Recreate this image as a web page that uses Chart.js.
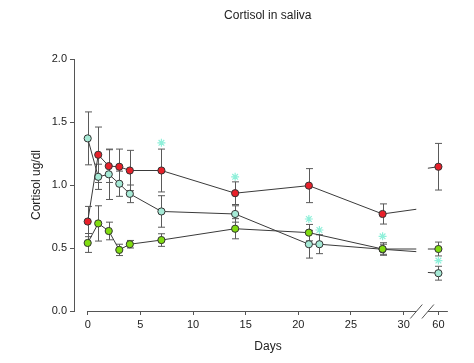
<!DOCTYPE html>
<html>
<head>
<meta charset="utf-8">
<script src="https://cdn.jsdelivr.net/npm/chart.js@4/dist/chart.umd.min.js"></script>
<style>
  body { margin: 0; background: #fff; }
  #wrap { width: 474px; height: 363px; }
</style>
</head>
<body>
<div id="wrap"><canvas id="chart"></canvas></div>
<script>
// values (mean and error bar half-length)
var redDays = [0, 1, 2, 3, 4, 7, 14, 21, 28, 60];
var redMean = [0.71, 1.24, 1.15, 1.145, 1.115, 1.115, 0.935, 0.995, 0.77, 1.145];
var redErr = [0.12, 0.22, 0.13, 0.14, 0.16, 0.17, 0.09, 0.135, 0.08, 0.185];

var cyanDays = [0, 1, 2, 3, 4, 7, 14, 21, 22, 28, 60];
var cyanMean = [1.37, 1.065, 1.085, 1.01, 0.93, 0.79, 0.77, 0.53, 0.53, 0.49, 0.30];
var cyanErr = [0.21, 0.1, 0.2, 0.1, 0.07, 0.125, 0.065, 0.11, 0.075, 0.04, 0.055];

var greenDays = [0, 1, 2, 3, 4, 7, 14, 21, 28, 60];
var greenMean = [0.54, 0.695, 0.635, 0.485, 0.53, 0.563, 0.653, 0.622, 0.492, 0.492];
var greenErr = [0.075, 0.14, 0.07, 0.045, 0.03, 0.05, 0.08, 0.065, 0.05, 0.055];

// significance asterisks
var starDays = [7, 14, 21, 22, 28, 60];
var starValues = [1.335, 1.065, 0.73, 0.643, 0.593, 0.40];

var xTickDays = [0, 5, 10, 15, 20, 25, 30, 60];

// broken x axis: days after CUT are shifted left so 60 sits just past 30
var CUT = 31.2;
var RESUME = 59;
var SHIFT = 60 - 33.3;
var AXIS_END = 34.2;

function axisDay(d) {
  return d > CUT ? d - SHIFT : d;
}
function realDay(v) {
  return v > CUT ? Math.round(v + SHIFT) : v;
}
function points(days, vals) {
  return days.map(function (d, i) {
    return { x: axisDay(d), y: vals[i] };
  });
}

var lineColor = "#3a3a3a";
var axisColor = "#555";

function series(label, days, mean, err, fill) {
  return {
    label: label,
    type: "line",
    data: points(days, mean),
    days: days,
    mean: mean,
    err: err,
    borderColor: lineColor,
    borderWidth: 1,
    pointRadius: 3.6,
    pointBorderWidth: 1,
    pointBorderColor: "#333",
    pointBackgroundColor: fill,
    fill: false,
    tension: 0,
    segment: {
      borderColor: function (ctx) {
        return ctx.p0.parsed.x <= CUT && ctx.p1.parsed.x > CUT ? "rgba(0,0,0,0)" : lineColor;
      },
    },
  };
}

// error bars and the line pieces either side of the axis break
var extrasPlugin = {
  id: "extras",
  beforeDatasetsDraw: function (chart) {
    var ctx = chart.ctx;
    var xs = chart.scales.x;
    var ys = chart.scales.y;
    ctx.save();
    chart.data.datasets.forEach(function (ds) {
      if (!ds.err) return;
      ctx.strokeStyle = "#5a5a5a";
      ctx.lineWidth = 1;
      ds.days.forEach(function (d, i) {
        var px = Math.round(xs.getPixelForValue(axisDay(d))) + 0.5;
        var top = ys.getPixelForValue(ds.mean[i] + ds.err[i]);
        var bot = ys.getPixelForValue(ds.mean[i] - ds.err[i]);
        ctx.beginPath();
        ctx.moveTo(px, top);
        ctx.lineTo(px, bot);
        ctx.moveTo(px - 3.5, top);
        ctx.lineTo(px + 3.5, top);
        ctx.moveTo(px - 3.5, bot);
        ctx.lineTo(px + 3.5, bot);
        ctx.stroke();
      });
      // connectors drawn in real days, cut at the break
      for (var i = 0; i < ds.days.length - 1; i++) {
        var d0 = ds.days[i], d1 = ds.days[i + 1];
        if (d0 <= CUT && d1 > CUT) {
          var m0 = ds.mean[i], m1 = ds.mean[i + 1];
          var yc = m0 + ((m1 - m0) * (CUT - d0)) / (d1 - d0);
          var yr = m0 + ((m1 - m0) * (RESUME - d0)) / (d1 - d0);
          ctx.strokeStyle = lineColor;
          ctx.beginPath();
          ctx.moveTo(xs.getPixelForValue(axisDay(d0)), ys.getPixelForValue(m0));
          ctx.lineTo(xs.getPixelForValue(CUT), ys.getPixelForValue(yc));
          ctx.moveTo(xs.getPixelForValue(axisDay(RESUME)), ys.getPixelForValue(yr));
          ctx.lineTo(xs.getPixelForValue(axisDay(d1)), ys.getPixelForValue(m1));
          ctx.stroke();
        }
      }
    });
    ctx.restore();
  },
  afterDraw: function (chart) {
    var ctx = chart.ctx;
    var xs = chart.scales.x;
    var ys = chart.scales.y;
    var y0 = Math.round(ys.getPixelForValue(0)) + 0.5;
    var xCut = xs.getPixelForValue(CUT);
    var xRes = xs.getPixelForValue(axisDay(RESUME));
    ctx.save();
    ctx.strokeStyle = axisColor;
    ctx.lineWidth = 1;
    ctx.beginPath();
    ctx.moveTo(xs.getPixelForValue(0), y0);
    ctx.lineTo(xCut, y0);
    ctx.moveTo(xRes, y0);
    ctx.lineTo(xs.getPixelForValue(AXIS_END), y0);
    // break slashes
    ctx.moveTo(xCut - 6, y0 + 7);
    ctx.lineTo(xCut + 6, y0 - 7);
    ctx.moveTo(xRes - 6, y0 + 7);
    ctx.lineTo(xRes + 6, y0 - 7);
    ctx.stroke();

    // chart title
    ctx.fillStyle = "#222";
    ctx.font = "12px 'Liberation Sans', Arial, sans-serif";
    ctx.textAlign = "center";
    ctx.textBaseline = "middle";
    var cx = (xs.getPixelForValue(0) + xs.getPixelForValue(AXIS_END)) / 2;
    ctx.fillText("Cortisol in saliva", cx, 16);
    ctx.restore();
  },
};

Chart.defaults.font.family = "'Liberation Sans', Arial, sans-serif";
Chart.defaults.color = "#222";

var ctx = document.getElementById("chart").getContext("2d");
var chart = new Chart(ctx, {
  type: "line",
  data: {
    datasets: [
      {
        label: "significance",
        type: "scatter",
        data: points(starDays, starValues),
        pointStyle: "star",
        pointRadius: 4,
        pointBorderWidth: 1.2,
        pointBorderColor: "#8ff0da",
        pointBackgroundColor: "#8ff0da",
        showLine: false,
      },
      series("green", greenDays, greenMean, greenErr, "#80dc10"),
      series("red", redDays, redMean, redErr, "#e8202a"),
      series("cyan", cyanDays, cyanMean, cyanErr, "#a6ead6"),
    ],
  },
  options: {
    responsive: true,
    maintainAspectRatio: false,
    animation: false,
    layout: { padding: { top: 59, right: 12, bottom: 0, left: 0 } },
    plugins: {
      legend: { display: false },
      tooltip: { enabled: false },
    },
    scales: {
      x: {
        type: "linear",
        min: -1.3,
        max: 35.54,
        afterBuildTicks: function (scale) {
          scale.ticks = xTickDays.map(function (d) {
            return { value: axisDay(d) };
          });
        },
        afterFit: function (scale) {
          scale.height = 52;
        },
        border: { display: false },
        grid: {
          drawOnChartArea: false,
          drawTicks: true,
          tickLength: 4,
          color: axisColor,
        },
        ticks: {
          padding: 3,
          font: { size: 11 },
          maxRotation: 0,
          autoSkip: false,
          callback: function (value) {
            return String(realDay(value));
          },
        },
        title: {
          display: true,
          text: "Days",
          font: { size: 12 },
          padding: { top: 0, bottom: 9 },
        },
      },
      y: {
        min: 0,
        max: 2,
        afterFit: function (scale) {
          scale.width = 74;
        },
        border: { display: true, color: axisColor },
        grid: {
          drawOnChartArea: false,
          drawTicks: true,
          tickLength: 4,
          color: axisColor,
        },
        ticks: {
          stepSize: 0.5,
          padding: 3,
          font: { size: 11 },
          callback: function (value) {
            return value.toFixed(1);
          },
        },
        title: {
          display: true,
          text: "Cortisol ug/dl",
          font: { size: 12 },
          padding: { top: 29, bottom: 0 },
        },
      },
    },
  },
  plugins: [extrasPlugin],
});
</script>
</body>
</html>
